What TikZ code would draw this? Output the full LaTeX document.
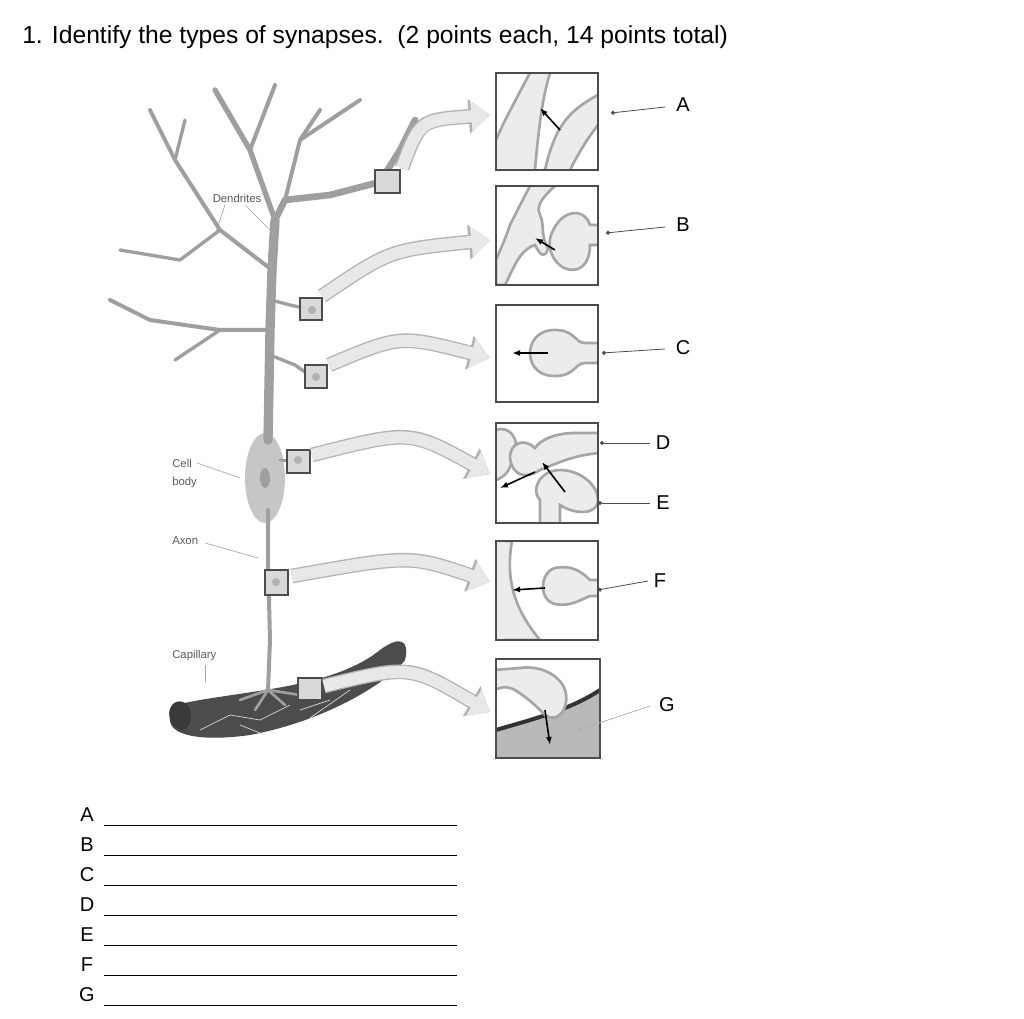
\documentclass[tikz,border=0pt]{standalone}
\usepackage{fontspec}
\setmainfont{Liberation Sans}
\usetikzlibrary{arrows.meta}
\begin{document}
\begin{tikzpicture}[x=0.75pt,y=-0.75pt,
  dend/.style={draw=gray!75,line cap=round,line join=round},
  sbox/.style={draw=black!70,line width=0.8pt},
  dbox/.style={draw=black!70,line width=1pt},
  bulb/.style={fill=gray!15,draw=gray!70,line width=2pt},
  band/.style={fill=gray!15,draw=gray!70,line width=2pt},
  bigarrow/.style={line width=9pt,draw=gray!18,-{Triangle[length=14pt,width=22pt]}},
  bigarrowo/.style={line width=11pt,draw=gray!60,-{Triangle[length=16pt,width=25pt]}},
  lbl/.style={font=\fontsize{15}{17}\selectfont,inner sep=0pt},
  tiny/.style={font=\fontsize{8.5}{9}\selectfont,text=gray!70!black,inner sep=0pt},
  pt/.style={-{Latex[length=6pt]},line width=1.2pt},
  lead/.style={draw=black!70,line width=0.6pt,{Circle[length=3pt]}-}
]
\useasboundingbox (0,0) rectangle (1024,1019);
\node[anchor=west,font=\fontsize{18.5}{21}\selectfont,inner sep=0pt] (title) at (22,37) {1. Identify the types of synapses.\ \ (2 points each, 14 points total)};

% capillary
\fill[gray!60!black] (175,705) .. controls (240,690) and (330,690) .. (380,650) .. controls (400,635) and (410,640) .. (405,660) .. controls (390,680) and (330,720) .. (250,735) .. controls (200,742) and (170,735) .. (170,720) -- cycle;
\fill[gray!45!black] (170,720) .. controls (165,700) and (185,695) .. (190,710) .. controls (195,730) and (178,738) .. (170,720);
\draw[gray!30,line width=0.5pt] (200,730) -- (230,715) -- (260,720) -- (290,705) (240,725) -- (265,735) (300,710) -- (330,700) (310,718)--(350,690);
% neuron trunk and dendrites
\fill[gray!45] (265,478) ellipse (20 and 45);
\fill[gray!75] (265,478) ellipse (5 and 10);
\draw[dend,line width=7pt] (268,440) -- (270,330) -- (272,270) -- (275,220);
\draw[dend,line width=5pt] (275,220) -- (285,200) -- (330,195) -- (380,182) -- (400,150) -- (415,120);
\draw[dend,line width=4pt] (275,220) -- (250,150) -- (215,90);
\draw[dend,line width=3pt] (250,150) -- (275,85);
\draw[dend,line width=3pt] (285,200) -- (300,140) -- (320,110);
\draw[dend,line width=3pt] (272,270) -- (220,230) -- (175,160) -- (150,110);
\draw[dend,line width=2.5pt] (220,230) -- (180,260) -- (120,250);
\draw[dend,line width=2.5pt] (175,160) -- (185,120);
\draw[dend,line width=3pt] (270,330) -- (220,330) -- (150,320) -- (110,300);
\draw[dend,line width=2.5pt] (220,330) -- (175,360);
\draw[dend,line width=3pt] (300,140) -- (360,100);
\draw[dend,line width=2.5pt] (271,300) -- (290,305) -- (312,310);
\draw[dend,line width=2.5pt] (270,355) -- (295,365) -- (312,377);
\draw[dend,line width=2pt] (280,460) -- (300,462);
\draw[dend,line width=3pt] (268,510) -- (268,560) -- (270,640) -- (268,690);
\draw[dend,line width=2pt] (268,690) -- (240,700) (268,690) -- (255,710) (268,690) -- (285,705) (268,690)--(300,695);
% small boxes
\foreach \a/\b in {{(375,170)}/{(400,193)},{(300,298)}/{(322,320)},{(305,365)}/{(327,388)},{(287,450)}/{(310,473)},{(265,570)}/{(288,595)},{(298,678)}/{(322,700)}}{
  \fill[gray!30] \a rectangle \b; \draw[sbox] \a rectangle \b;}
\fill[gray!60] (312,310) circle (4) (316,377) circle (4) (298,460) circle (4) (276,582) circle (4);
% labels on neuron
\node[tiny] (dl) at (237,198) {Dendrites};
\draw[gray!70,line width=0.5pt] (225,205) -- (215,235) (245,205) -- (275,235);
\node[tiny,anchor=west] (cb) at (172,463) {Cell};
\node[tiny,anchor=west] (cb2) at (172,483) {body};
\draw[gray!70,line width=0.5pt] (197,463) -- (240,478);
\node[tiny,anchor=west] (ax) at (172,541) {Axon};
\draw[gray!70,line width=0.5pt] (205,543) -- (258,558);
\node[tiny,anchor=west] (cap) at (172,656) {Capillary};
\draw[gray!70,line width=0.5pt] (205,665) -- (205,682);
% big arrows
\foreach \s/\c/\e in {{(402,168)}/{(420,120)}/{(490,115)}, {(322,296)}/{(390,250)}/{(490,240)}, {(329,365)}/{(400,335)}/{(490,358)}, {(312,455)}/{(410,430)}/{(490,474)}, {(292,576)}/{(410,555)}/{(490,582)}, {(324,686)}/{(410,665)}/{(490,712)}}{
  \draw[bigarrowo] \s .. controls \c .. \e;
  \draw[bigarrow] \s .. controls \c .. \e;
}
% detail boxes
\begin{scope}
\clip (496,73) rectangle (598,170);
\fill[gray!15] (496,73) rectangle (598,170);
\fill[white] (496,73) -- (530,73) .. controls (510,110) and (500,130) .. (496,140) -- cycle;
\fill[white] (550,73) -- (598,73) -- (598,95) .. controls (570,110) and (555,125) .. (545,170) -- (535,170) .. controls (540,110) and (545,90) .. (550,73);
\fill[white] (598,125) -- (598,170) -- (570,170) .. controls (580,150) and (590,135) .. (598,125);
\draw[gray!70,line width=2pt] (530,73) .. controls (510,110) and (500,130) .. (496,140);
\draw[gray!70,line width=2pt] (550,73) .. controls (545,90) and (540,110) .. (535,170);
\draw[gray!70,line width=2pt] (598,95) .. controls (570,110) and (555,125) .. (545,170);
\draw[gray!70,line width=2pt] (598,125) .. controls (590,135) and (580,150) .. (570,170);
\draw[pt] (560,130) -- (540,108);
\end{scope}
\draw[dbox] (496,73) rectangle (598,170);
\begin{scope}
\clip (496,186) rectangle (598,285);
\draw[band] (530,186) .. controls (520,205) and (515,215) .. (510,225) .. controls (505,240) and (500,250) .. (496,260) -- (496,285) -- (505,285) .. controls (515,265) and (520,250) .. (535,245) .. controls (540,255) and (545,260) .. (548,248) .. controls (540,235) and (545,225) .. (540,215) .. controls (535,205) and (545,195) .. (555,186);
\draw[bulb] (600,225) -- (590,225) .. controls (585,210) and (570,210) .. (560,220) .. controls (550,232) and (545,245) .. (555,260) .. controls (565,275) and (590,275) .. (590,245) -- (600,245);
\draw[pt] (555,250) -- (535,238);
\end{scope}
\draw[dbox] (496,186) rectangle (598,285);
\begin{scope}
\clip (496,305) rectangle (598,402);
\draw[bulb] (600,343) -- (585,343) .. controls (575,343) and (575,330) .. (555,330) .. controls (535,330) and (530,345) .. (530,353) .. controls (530,362) and (535,376) .. (555,376) .. controls (575,376) and (575,363) .. (585,363) -- (600,363);
\draw[pt] (548,353) -- (512,353);
\end{scope}
\draw[dbox] (496,305) rectangle (598,402);
\begin{scope}
\clip (496,423) rectangle (598,523);
\draw[band] (496,430) .. controls (510,425) and (520,440) .. (515,455) .. controls (510,465) and (510,475) .. (496,480) ;
\draw[bulb] (600,433) -- (575,433) .. controls (555,433) and (540,440) .. (535,448) .. controls (525,438) and (510,442) .. (510,458) .. controls (512,475) and (525,480) .. (540,470) .. controls (560,462) and (575,455) .. (600,453);
\draw[bulb] (540,525) -- (540,500) .. controls (530,490) and (540,470) .. (560,470) .. controls (580,470) and (598,485) .. (598,500) .. controls (598,515) and (575,515) .. (560,505) -- (560,525);
\draw[pt] (535,472) -- (500,488);
\draw[pt] (565,492) -- (542,462);
\end{scope}
\draw[dbox] (496,423) rectangle (598,523);
\begin{scope}
\clip (496,541) rectangle (598,640);
\draw[band] (490,541) -- (512,541) .. controls (505,580) and (515,610) .. (540,640) -- (490,640) -- cycle;
\fill[gray!15] (496,541) rectangle (505,640);
\draw[bulb] (600,580) -- (590,580) .. controls (580,570) and (570,565) .. (555,568) .. controls (540,572) and (538,600) .. (555,604) .. controls (570,607) and (580,600) .. (590,596) -- (600,596);
\draw[pt] (545,588) -- (512,590);
\end{scope}
\draw[dbox] (496,541) rectangle (598,640);
\begin{scope}
\clip (496,659) rectangle (600,758);
\fill[gray!55] (496,730) .. controls (530,720) and (570,710) .. (600,690) -- (600,758) -- (496,758) -- cycle;
\draw[black!80,line width=3pt] (496,730) .. controls (530,720) and (570,710) .. (600,690);
\draw[bulb] (494,670) -- (520,668) .. controls (540,665) and (560,675) .. (565,690) .. controls (570,705) and (560,725) .. (545,715) .. controls (535,705) and (530,700) .. (515,690) .. controls (505,685) and (500,688) .. (494,690);
\draw[pt] (545,710) -- (550,745);
\end{scope}
\draw[dbox] (496,659) rectangle (600,758);
% right labels
\coordinate (la) at (611,113); \draw[lead] (la) -- (665,107);
\node[lbl] (A) at (683,105) {A};
\coordinate (lb) at (606,233); \draw[lead] (lb) -- (665,227);
\node[lbl] (B) at (683,225) {B};
\coordinate (lc) at (602,353); \draw[lead] (lc) -- (665,349);
\node[lbl] (C) at (683,348) {C};
\coordinate (ld) at (600,443); \draw[lead] (ld) -- (650,443);
\node[lbl] (D) at (663,443) {D};
\coordinate (le) at (598,503); \draw[lead] (le) -- (650,503);
\node[lbl] (E) at (663,503) {E};
\coordinate (lf) at (598,590); \draw[lead] (lf) -- (648,581);
\node[lbl] (F) at (660,581) {F};
\coordinate (lg) at (578,730); \draw[lead,draw=gray!60] (lg) -- (650,706);
\node[lbl] (G) at (667,705) {G};
% answer lines
\foreach \l/\y in {A/815,B/845,C/875,D/905,E/935,F/965,G/995}{
  \node[lbl] (ans\l) at (87,\y) {\l};
  \draw[black,line width=0.6pt] (104,\y+10) -- (457,\y+10);
}
\end{tikzpicture}
\end{document}
